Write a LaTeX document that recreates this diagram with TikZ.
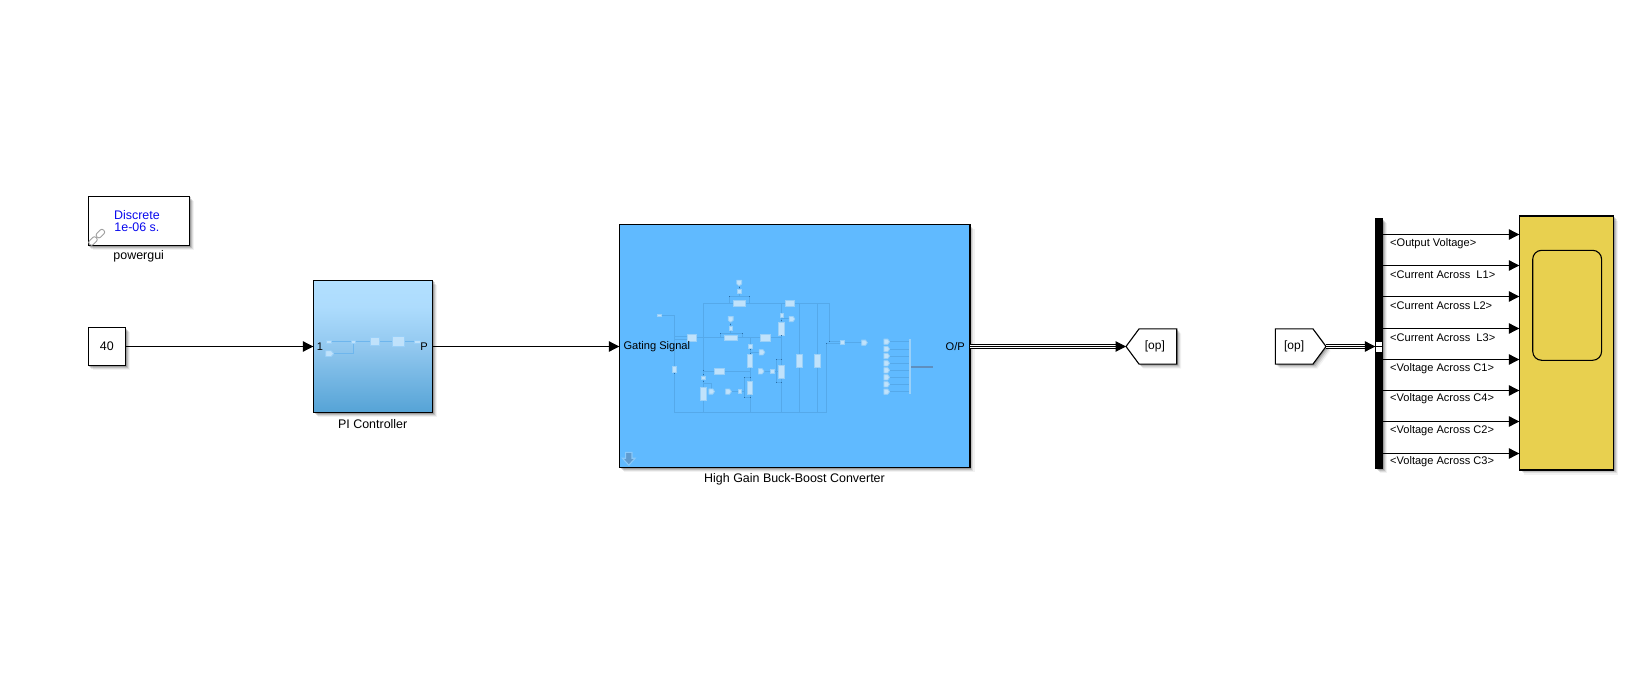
\documentclass[tikz,border=0pt]{standalone}
\usepackage{fontspec}
\setmainfont{Liberation Sans}
\usetikzlibrary{arrows.meta,shadows,shapes.symbols,calc}
\definecolor{blockblue}{HTML}{60BAFF}
\definecolor{thumbfill}{HTML}{C0E2FB}
\definecolor{thumbedge}{HTML}{9AD0F8}
\definecolor{thumbline}{HTML}{55A9EA}
\definecolor{thumbdot}{HTML}{2A6DA6}
\definecolor{scopeyellow}{HTML}{E8D04F}
\definecolor{discblue}{HTML}{0A0AEE}
\definecolor{busgrey}{HTML}{5E8FBF}
\definecolor{arrowicon}{HTML}{5F9BCF}
\definecolor{pia}{HTML}{55A3D6}
\definecolor{pib}{HTML}{92C8EF}
\definecolor{pic}{HTML}{ADDCFD}
\definecolor{pid}{HTML}{B2DFFF}
\pgfdeclareverticalshading{pishade}{100bp}{
  color(0bp)=(pia);
  color(25bp)=(pia);
  color(50bp)=(pib);
  color(65bp)=(pic);
  color(75bp)=(pid);
  color(100bp)=(pid)}
\newcommand\fs[1]{\fontsize{#1}{12.3}\selectfont}
\newcommand\tb[4]{\path[thumbbox] (#1,#2) rectangle (#3,#4);}
\newcommand\tl[1]{\draw[thumbwire] #1;}
\newcommand\portR[2]{\path[thumbbox,shift={(#1,#2)}] (-2.8,-2.6) -- (1,-2.6) -- (2.8,0) -- (1,2.6) -- (-2.8,2.6) -- cycle;}
\newcommand\portD[2]{\path[thumbbox,shift={(#1,#2)}] (-2.4,-2.8) -- (2.4,-2.8) -- (2.4,1) -- (0,2.8) -- (-2.4,1) -- cycle;}
\newcommand\dotm[2]{\fill[thumbdot] (#1-.5,#2-.5) rectangle (#1+.5,#2+.5);}
\tikzset{
  softshadow/.style={
    general shadow={shadow xshift=4.5pt,shadow yshift=-4.5pt,fill=black,opacity=.05},
    general shadow={shadow xshift=3.4pt,shadow yshift=-3.4pt,fill=black,opacity=.09},
    general shadow={shadow xshift=2.3pt,shadow yshift=-2.3pt,fill=black,opacity=.13},
    general shadow={shadow xshift=1.2pt,shadow yshift=-1.2pt,fill=black,opacity=.18}},
  blockbox/.style={draw=black,line width=1.1pt,inner sep=0pt,outer sep=0pt,softshadow,font=\fs{12.45},align=center},
  gotobox/.style={blockbox,fill=white,signal,signal from=nowhere,signal pointer angle=107,
    minimum width=50.7pt,minimum height=35.3pt,font=\fs{12}},
  blocklabel/.style={inner sep=0pt,font=\fs{12.45}},
  portlabel/.style={inner sep=0pt,font=\fs{11.1}},
  siglabel/.style={inner sep=0pt,anchor=west,font=\fs{11.05}},
  wire/.style={draw=black,line width=1pt,-{Triangle[length=10.5pt,width=10.5pt]}},
  busouter/.style={draw=black,line width=5.4pt,shorten >=8pt},
  businner/.style={draw=white,line width=3.4pt,shorten >=8pt},
  buscore/.style={draw=black,line width=1pt,-{Triangle[length=10.5pt,width=10.5pt]}},
  thumbbox/.style={fill=thumbfill,draw=thumbedge,line width=.8pt},
  thumbwire/.style={draw=thumbline,line width=.8pt},
  piwire/.style={draw=thumbline!85!white,line width=.8pt},
  linkpart/.style={draw=black!38,fill=white,line width=.9pt,rounded corners=2.4pt},
}
\begin{document}
\begin{tikzpicture}[x=1pt,y=-1pt]
\useasboundingbox (0,0) rectangle (1651,695);
\fill[white] (0,0) rectangle (1651,695);

% powergui
\node[blockbox,fill=white,minimum width=101.7pt,minimum height=49pt,text=discblue] (pg) at (138.9,220.8) {\kern-2pt Discrete\kern2pt\\[-.5pt]\kern-2pt 1e-06 s.\kern2pt};
\node[blocklabel] (pgl) at (138.7,256) {powergui};
\begin{scope}[rotate around={45:(96.7,237.3)}]
  \draw[linkpart] (86.7,234.6) rectangle (96.2,240);
  \draw[linkpart] (97.2,234.6) rectangle (106.7,240);
\end{scope}

% constant
\node[blockbox,fill=white,minimum width=37.7pt,minimum height=37.7pt] (const) at (106.9,346.5) {40};

% PI controller
\node[blockbox,shading=pishade,minimum width=119pt,minimum height=132.7pt] (pi) at (372.8,346.5) {};
\node[blocklabel] (pil) at (372.7,424) {PI Controller};
\draw[piwire] (331,341.7) -- (414,341.7);
\draw[piwire] (333,353.6) -- (353.3,353.6) -- (353.3,341.7);
\tb{325.9}{340.2}{331.6}{343.4}
\path[thumbbox,shift={(329.7,353.6)}] (-4,-2.8) -- (1.5,-2.8) -- (4,0) -- (1.5,2.8) -- (-4,2.8) -- cycle;
\tb{351.7}{339.9}{355.1}{343.5}
\tb{370.7}{337.7}{379.3}{345.4}
\tb{392.3}{336.7}{404.3}{346.8}
\tb{414}{340.2}{420}{343.4}
\node[portlabel] (pin) at (320,346.3) {1};
\node[portlabel] (pout) at (424,346.3) {P};

% High gain converter
\node[blockbox,fill=blockblue,minimum width=350.7pt,minimum height=243pt] (hg) at (794.65,346.3) {};
\node[blocklabel] (hgl) at (794.5,479) {High Gain Buck-Boost Converter};

% thumbnail wiring
\tl{(661.7,315.7) -- (674.4,315.7) -- (674.4,412.7) -- (826.3,412.7) -- (826.3,343.3) -- (841,343.3)}
\tl{(703.3,412.7) -- (703.3,303.3) -- (829.3,303.3) -- (829.3,341) -- (841,341)}
\tl{(674.4,336.3) -- (688,336.3)}
\tl{(674.4,339.3) -- (688,339.3)}
\tl{(696.7,337.7) -- (781.6,337.7)}
\tl{(729.3,303.3) -- (729.3,296.3) -- (749.3,296.3) -- (749.3,303.3)}
\tl{(739.5,285.7) -- (739.5,296.3)}
\tl{(720.3,337.7) -- (720.3,333.3) -- (742.3,333.3) -- (742.3,337.7)}
\tl{(730.7,322) -- (730.7,333.3)}
\tl{(750,337.7) -- (750,412.7)}
\tl{(750,352.3) -- (759.3,352.3)}
\tl{(703.3,371.3) -- (750,371.3)}
\tl{(703.3,383.3) -- (711.7,383.3) -- (711.7,389)}
\tl{(731,391.6) -- (744.3,391.6)}
\tl{(750,377.3) -- (744.3,377.3) -- (744.3,397.3) -- (750,397.3)}
\tl{(781.5,303.3) -- (781.5,412.7)}
\tl{(781.5,318.3) -- (789.3,318.3)}
\tl{(781.5,359.3) -- (776.3,359.3) -- (776.3,382.3) -- (781.5,382.3)}
\tl{(764,371.3) -- (778,371.3)}
\tl{(799.3,303.3) -- (799.3,412.7)}
\tl{(817.5,303.3) -- (817.5,412.7)}
\tl{(844.7,342.6) -- (861.7,342.6)}
% thumbnail blocks
\tb{657.4}{314.6}{661.7}{316.8}
\tb{672.8}{366.6}{675.9}{372}
\tb{687.3}{334.7}{696.7}{341}
\tb{733.3}{300.7}{745.7}{306}
\tb{737.7}{289.7}{741.2}{293.3}
\portD{739.2}{283}
\tb{724.3}{335}{737.3}{340.7}
\tb{729}{326.7}{732.4}{330.7}
\portD{730.7}{319.4}
\tb{760.7}{334.7}{770.3}{341}
\tb{785.3}{300.3}{794.7}{306.3}
\tb{748.4}{344.3}{752}{348.3}
\tb{747}{354.7}{752.8}{367.3}
\tb{747}{381.7}{752.8}{394.3}
\tb{738}{389.7}{741.7}{393.7}
\portR{728.5}{391.6}
\portR{762}{352.3}
\tb{714.7}{368}{724.3}{374.7}
\tb{701.6}{376}{705.2}{379.7}
\portR{711.7}{391.5}
\tb{700}{387.7}{706}{400.3}
\tb{778.4}{365.7}{784.4}{378.3}
\tb{770.7}{369.3}{774.3}{373}
\portR{761.2}{371.3}
\tb{778.4}{322.3}{784.4}{335}
\tb{780}{313.7}{783.8}{317.3}
\portR{792}{319}
\tb{796.3}{354.7}{802.3}{367.3}
\tb{814.5}{354.7}{820.5}{367.3}
\tb{840.7}{340.4}{844.7}{344.4}
\portR{864.5}{342.7}
% thumbnail mux
\foreach \yy in {341.7,349,356,363.3,370.3,377.3,384.3,391.7}{
  \tl{(889,\yy) -- (909,\yy)}
  \portR{886.7}{\yy}
}
\fill[thumbedge] (909,339) rectangle (911,394.3);
\fill[busgrey] (911,366.4) rectangle (933,367.6);
% junction dots
\dotm{729.3}{296.3}\dotm{749.3}{296.3}
\dotm{720.3}{333.3}\dotm{742.3}{333.3}
\dotm{739.5}{287.5}\dotm{730.7}{324.5}
\dotm{781.5}{320.5}\dotm{781.5}{335.5}
\dotm{776.3}{359.3}\dotm{781.5}{359.3}\dotm{776.3}{382.3}\dotm{781.5}{382.3}
\dotm{744.3}{377.3}\dotm{750}{377.3}\dotm{744.3}{397.3}\dotm{750}{397.3}
\dotm{750}{349.5}\dotm{750}{353.8}
\dotm{703.3}{370}\dotm{703.3}{374.7}\dotm{703.3}{381}
\dotm{674.4}{373.5}\dotm{829.3}{341}\dotm{826.3}{343.3}
% down arrow icon
\path[fill=arrowicon,draw=thumbedge!70!blockblue,line width=1.1pt]
  (625.6,452.3) -- (632,452.3) -- (632,458.2) -- (635.2,458.2) -- (628.8,465.2) -- (622.4,458.2) -- (625.6,458.2) -- cycle;
\node[portlabel,anchor=west] (hgin) at (623.3,346.3) {Gating Signal};
\node[portlabel,anchor=east] (hgout) at (965,346.3) {O/P};

% Goto and From
\node[gotobox,signal to=west,anchor=west] (goto) at (1126,346.5) {\kern-3pt[op]\kern3pt};
\node[gotobox,signal to=east,anchor=east] (from) at (1326,346.5) {[op]};

% Demux
\node[blockbox,fill=black,minimum width=7.4pt,minimum height=250pt] (bar) at (1379,343.3) {};
\fill[white] (1376,341.7) rectangle (1381.7,346);
\fill[white] (1376,347) rectangle (1381.7,351.7);

% Scope
\node[blockbox,fill=scopeyellow,minimum width=94pt,minimum height=254pt] (scope) at (1566.3,343) {};
\node[draw=black,line width=1.1pt,rounded corners=9pt,fill=scopeyellow,minimum width=68.9pt,minimum height=110pt,inner sep=0pt] (screen) at (1567.15,305.3) {};

% Connectors
\coordinate (hgo) at (hg.east |- goto.west);
\coordinate (hgi) at (hg.west |- pi.east);
\draw[wire] (const.east) -- (pi.west);
\draw[wire] (pi.east) -- (hgi);
\draw[busouter] (hgo) -- (goto.west);
\draw[businner] (hgo) -- (goto.west);
\draw[buscore] (hgo) -- (goto.west);
\coordinate (fromin) at (bar.west |- from.east);
\draw[busouter] (from.east) -- (fromin);
\draw[businner] (from.east) -- (fromin);
\draw[buscore] (from.east) -- (fromin);

\foreach \n/\yy/\ly/\txt in {
  1/234.5/243.3/{<Output Voltage>},
  2/265.5/274.3/{<Current Across\ \ L1>},
  3/296.5/306/{<Current Across L2>},
  4/328.5/337.3/{<Current Across\ \ L3>},
  5/359.5/368.3/{<Voltage Across C1>},
  6/390.5/399/{<Voltage Across C4>},
  7/421.5/431/{<Voltage Across C2>},
  8/453.5/462/{<Voltage Across C3>}}{
  \coordinate (s\n) at (1382.7,\yy);
  \coordinate (e\n) at (1519.3,\yy);
  \draw[wire] (s\n) -- (e\n);
  \node[siglabel] (l\n) at (1390,\ly) {\txt};
}
\end{tikzpicture}
\end{document}
